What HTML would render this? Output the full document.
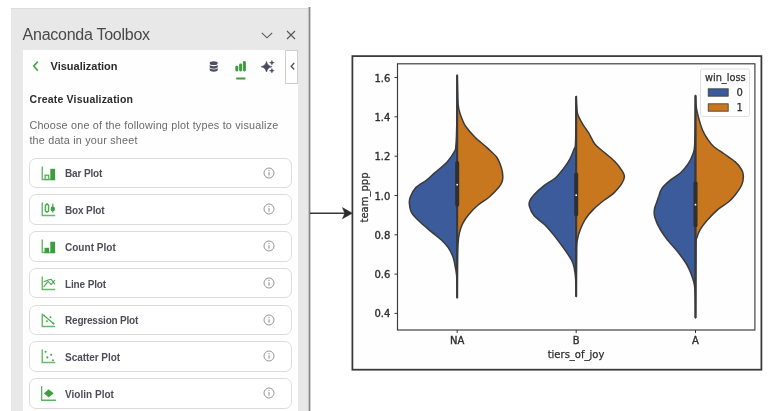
<!DOCTYPE html>
<html lang="en">
<head>
<meta charset="utf-8">
<title>Anaconda Toolbox - Visualization</title>
<style>
html,body{margin:0;padding:0;}
body{width:768px;height:411px;overflow:hidden;background:#fff;position:relative;font-family:"Liberation Sans",sans-serif;}
#stage{position:absolute;left:0;top:0;width:768px;height:411px;overflow:hidden;}
.abs{position:absolute;}
#pane{position:absolute;left:11px;top:8px;width:297px;height:403px;background:#e9e8e9;box-shadow:inset 0 1px 0 #dcdcdc;}
#pborder{position:absolute;left:308px;top:7px;width:3px;height:404px;background:linear-gradient(to right,#c6c6c6 0,#c6c6c6 1px,#868686 1px,#868686 2px,#cfcfcf 2px,#cfcfcf 3px);}
#title{position:absolute;left:22.6px;top:25px;font-size:16px;line-height:20px;color:#484848;white-space:nowrap;letter-spacing:-0.26px;}
#card{position:absolute;left:22.5px;top:49.6px;width:275.4px;height:362px;background:#fefefe;}
#tab{position:absolute;left:285.4px;top:49.6px;width:12.8px;height:34px;background:#fff;border:1px solid #cfcfcf;box-sizing:border-box;}
.h1{position:absolute;left:50.5px;top:59px;font-size:11px;line-height:14px;font-weight:bold;color:#2b2b2b;white-space:nowrap;}
.h2{position:absolute;left:29.6px;top:92.4px;font-size:10.5px;line-height:14px;font-weight:bold;color:#2b2b2b;white-space:nowrap;letter-spacing:0.2px;}
.p{position:absolute;left:29.4px;top:118px;font-size:10.8px;line-height:14.5px;color:#6a6a6a;white-space:nowrap;letter-spacing:0.2px;}
.btn{position:absolute;left:29px;width:263px;height:30.6px;box-sizing:border-box;border:1px solid #dcdcdc;border-radius:7px;background:#fff;}
.btn .ic{position:absolute;left:11px;top:7px;}
.btn .bl{position:absolute;left:35px;top:9px;font-size:10px;line-height:14px;font-weight:bold;color:#4d4d57;white-space:nowrap;letter-spacing:-0.14px;}
.btn .info{position:absolute;left:233.1px;top:8.2px;}
svg text.tk{font-family:"DejaVu Sans",sans-serif;font-size:10px;fill:#2e2e2e;stroke:#2e2e2e;stroke-width:0.35px;}
svg text.lb{font-family:"DejaVu Sans",sans-serif;font-size:10px;fill:#2e2e2e;stroke:#2e2e2e;stroke-width:0.25px;}
</style>
</head>
<body>
<div id="stage">
<div id="pane"></div>
<div id="pborder"></div>
<div id="title">Anaconda Toolbox</div>
<svg class="abs" style="left:258px;top:26px" width="44" height="18" viewBox="0 0 44 18">
<path d="M3.8 6.8L9 11.8L14.2 6.8" fill="none" stroke="#555" stroke-width="1.1"/>
<path d="M29 5L37 13M37 5L29 13" fill="none" stroke="#555" stroke-width="1.1"/>
</svg>
<div id="card"></div>
<div id="tab"></div>
<svg class="abs" style="left:28px;top:56px" width="270" height="28" viewBox="0 0 270 28">
<path d="M9.8 5.6L5.7 10.1L9.8 14.6" fill="none" stroke="#46a84a" stroke-width="1.6"/>
<g fill="#4d4d66">
<ellipse cx="185.7" cy="7.2" rx="4" ry="1.9"/>
<path d="M181.7 8.6c0 2.3 8 2.3 8 0v2.3c0 2.3-8 2.3-8 0z"/>
<path d="M181.7 11.8c0 2.3 8 2.3 8 0v2.3c0 2.3-8 2.3-8 0z"/>
</g>
<g fill="#3c9e3f">
<rect x="207.3" y="9.8" width="3" height="5.6" rx="1.3"/>
<rect x="211.1" y="7.6" width="3" height="7.8" rx="1.3"/>
<rect x="214.9" y="5.1" width="3" height="10.3" rx="1.3"/>
<rect x="208" y="21.6" width="9.6" height="2" rx="1"/>
</g>
<g fill="#4a4a63">
<path d="M238.5 5.4C239.6 8.8 240.4 9.6 243.9 10.7C240.4 11.8 239.6 12.6 238.5 16C237.4 12.6 236.6 11.8 233.1 10.7C236.6 9.6 237.4 8.8 238.5 5.4Z" stroke="#4a4a63" stroke-width="0.6" stroke-linejoin="round"/>
<path d="M243.9 4.3C244.3 5.9 244.7 6.3 246.3 6.7C244.7 7.1 244.3 7.5 243.9 9.1C243.5 7.5 243.1 7.1 241.5 6.7C243.1 6.3 243.5 5.9 243.9 4.3Z" stroke="#4a4a63" stroke-width="0.4" stroke-linejoin="round"/>
<path d="M243.9 12.3C244.3 13.9 244.7 14.3 246.3 14.7C244.7 15.1 244.3 15.5 243.9 17.1C243.5 15.5 243.1 15.1 241.5 14.7C243.1 14.3 243.5 13.9 243.9 12.3Z" stroke="#4a4a63" stroke-width="0.4" stroke-linejoin="round"/>
</g>
<path d="M266.2 7L263.2 10.2L266.2 13.4" fill="none" stroke="#555" stroke-width="1.4"/>
</svg>
<div class="h1">Visualization</div>
<div class="h2">Create Visualization</div>
<div class="p">Choose one of the following plot types to visualize<br>the data in your sheet</div>
<div class="btn" style="top:157.5px"><svg class="ic" width="16" height="16" viewBox="0 0 16 16"><path d="M1.25 0.5V13.5H14.2" fill="none" stroke="#62ba66" stroke-width="1.4"/><rect x="4.1" y="9.2" width="3.6" height="4.3" fill="#eaf7ea" stroke="#5aae5d" stroke-width="1.3"/><rect x="9.3" y="2.8" width="4.8" height="11.3" fill="#3c9e3f"/></svg><span class="bl" style="top:8.5px;letter-spacing:-0.14px">Bar Plot</span><svg class="info" width="12" height="12" viewBox="0 0 12 12"><circle cx="6" cy="6" r="5" fill="none" stroke="#8a8a8a" stroke-width="0.9"/><path d="M6 5.2V8.6" stroke="#8a8a8a" stroke-width="1"/><circle cx="6" cy="3.6" r="0.6" fill="#8a8a8a"/></svg></div>
<div class="btn" style="top:194.3px"><svg class="ic" width="16" height="16" viewBox="0 0 16 16"><path d="M1.25 0.5V13.5H14.2" fill="none" stroke="#62ba66" stroke-width="1.4"/><rect x="4.3" y="2.5" width="3.3" height="7.2" rx="1.2" fill="#eaf7ea" stroke="#4ea852" stroke-width="1.3"/><path d="M5.95 0.9V2.5M5.95 9.7V11M11.8 1.6V10.6" stroke="#4ea852" stroke-width="1.2" fill="none"/><ellipse cx="11.8" cy="7" rx="2.2" ry="2.4" fill="#3c9e3f"/></svg><span class="bl" style="top:9px;letter-spacing:-0.14px">Box Plot</span><svg class="info" width="12" height="12" viewBox="0 0 12 12"><circle cx="6" cy="6" r="5" fill="none" stroke="#8a8a8a" stroke-width="0.9"/><path d="M6 5.2V8.6" stroke="#8a8a8a" stroke-width="1"/><circle cx="6" cy="3.6" r="0.6" fill="#8a8a8a"/></svg></div>
<div class="btn" style="top:231.0px"><svg class="ic" width="16" height="16" viewBox="0 0 16 16"><path d="M1.25 0.5V13.5H14.2" fill="none" stroke="#62ba66" stroke-width="1.4"/><rect x="3.5" y="8.8" width="4.6" height="5.3" fill="#3c9e3f"/><rect x="9.3" y="2.7" width="4.8" height="11.4" fill="#3c9e3f"/></svg><span class="bl" style="top:9px;letter-spacing:0.02px">Count Plot</span><svg class="info" width="12" height="12" viewBox="0 0 12 12"><circle cx="6" cy="6" r="5" fill="none" stroke="#8a8a8a" stroke-width="0.9"/><path d="M6 5.2V8.6" stroke="#8a8a8a" stroke-width="1"/><circle cx="6" cy="3.6" r="0.6" fill="#8a8a8a"/></svg></div>
<div class="btn" style="top:267.8px"><svg class="ic" width="16" height="16" viewBox="0 0 16 16"><path d="M1.25 0.5V13.5H14.2" fill="none" stroke="#62ba66" stroke-width="1.4"/><path d="M2.6 10.9L7.1 5.4L10.2 8.6L13.8 4M2.6 5.8L7.1 4L10.2 3.3L14 8.3" fill="none" stroke="#4ea852" stroke-width="1.15" stroke-linejoin="round"/></svg><span class="bl" style="top:9px;letter-spacing:-0.14px">Line Plot</span><svg class="info" width="12" height="12" viewBox="0 0 12 12"><circle cx="6" cy="6" r="5" fill="none" stroke="#8a8a8a" stroke-width="0.9"/><path d="M6 5.2V8.6" stroke="#8a8a8a" stroke-width="1"/><circle cx="6" cy="3.6" r="0.6" fill="#8a8a8a"/></svg></div>
<div class="btn" style="top:304.5px"><svg class="ic" width="16" height="16" viewBox="0 0 16 16"><path d="M1.25 0.5V13.5H14.2" fill="none" stroke="#62ba66" stroke-width="1.4"/><path d="M2.4 2L13 11" stroke="#4ea852" stroke-width="1.2"/><circle cx="9.5" cy="4.3" r="1" fill="#4ea852"/><circle cx="5.9" cy="8.2" r="1" fill="#4ea852"/><circle cx="12.4" cy="10.4" r="1" fill="#4ea852"/><circle cx="3" cy="2.5" r="0.9" fill="#4ea852"/></svg><span class="bl" style="top:8.5px;letter-spacing:-0.2px">Regression Plot</span><svg class="info" width="12" height="12" viewBox="0 0 12 12"><circle cx="6" cy="6" r="5" fill="none" stroke="#8a8a8a" stroke-width="0.9"/><path d="M6 5.2V8.6" stroke="#8a8a8a" stroke-width="1"/><circle cx="6" cy="3.6" r="0.6" fill="#8a8a8a"/></svg></div>
<div class="btn" style="top:341.3px"><svg class="ic" width="16" height="16" viewBox="0 0 16 16"><path d="M1.25 0.5V13.5H14.2" fill="none" stroke="#62ba66" stroke-width="1.4"/><circle cx="4.6" cy="2.75" r="1.05" fill="#4ea852"/><circle cx="10.2" cy="5.7" r="1.05" fill="#4ea852"/><circle cx="6.3" cy="8.4" r="1.05" fill="#4ea852"/><circle cx="12" cy="11.2" r="1.05" fill="#4ea852"/></svg><span class="bl" style="top:9px;letter-spacing:-0.04px">Scatter Plot</span><svg class="info" width="12" height="12" viewBox="0 0 12 12"><circle cx="6" cy="6" r="5" fill="none" stroke="#8a8a8a" stroke-width="0.9"/><path d="M6 5.2V8.6" stroke="#8a8a8a" stroke-width="1"/><circle cx="6" cy="3.6" r="0.6" fill="#8a8a8a"/></svg></div>
<div class="btn" style="top:378.0px"><svg class="ic" width="16" height="16" viewBox="0 0 16 16"><path d="M0.6 0.2V14.3H15" fill="none" stroke="#5ab45e" stroke-width="1.4"/><path d="M3.4 7.35L7.7 3.8L12.2 7.35L7.7 10.9Z" fill="#3c9e3f" stroke="#3c9e3f" stroke-width="0.8" stroke-linejoin="round"/></svg><span class="bl" style="top:9px;letter-spacing:0.02px">Violin Plot</span><svg class="info" width="12" height="12" viewBox="0 0 12 12"><circle cx="6" cy="6" r="5" fill="none" stroke="#8a8a8a" stroke-width="0.9"/><path d="M6 5.2V8.6" stroke="#8a8a8a" stroke-width="1"/><circle cx="6" cy="3.6" r="0.6" fill="#8a8a8a"/></svg></div>
<svg class="abs" style="left:0;top:0" width="768" height="411" viewBox="0 0 768 411">
<line x1="310" y1="213.2" x2="345" y2="213.2" stroke="#383838" stroke-width="1.5"/>
<path d="M352.4 213.2L342.4 207.6L344.8 213.2L342.4 218.8Z" fill="#2a2a2a" stroke="#2a2a2a" stroke-width="0.5" stroke-linejoin="round"/>
<rect x="352.4" y="56.1" width="409" height="313.6" fill="#fefefe" stroke="#383838" stroke-width="1.75"/>
<rect x="397.5" y="63.8" width="357.4" height="266.2" fill="#fefefe" stroke="#3a3a3a" stroke-width="1.15"/>
<path d="M457.2 75.2C457.2 81.0 457.1 100.0 457.0 110.0C456.9 120.0 456.7 128.9 456.5 135.0C456.3 141.1 456.1 143.8 455.8 146.5C455.5 149.2 456.2 148.6 454.7 151.2C453.2 153.9 450.3 158.6 446.9 162.2C443.5 165.8 437.8 170.1 434.4 173.1C431.0 176.1 429.7 177.6 426.6 180.0C423.5 182.4 418.3 184.9 415.6 187.8C412.9 190.7 411.2 194.6 410.2 197.2C409.2 199.8 409.1 200.8 409.4 203.4C409.6 206.0 409.9 209.7 411.7 212.8C413.5 215.9 417.0 219.1 420.3 222.2C423.6 225.3 427.7 228.6 431.2 231.6C434.8 234.6 438.5 237.3 441.4 240.0C444.3 242.7 446.4 244.9 448.4 247.8C450.3 250.7 451.9 253.8 453.1 257.2C454.3 260.6 454.9 265.2 455.5 268.1C456.1 271.0 456.2 271.6 456.5 274.4C456.8 277.2 456.9 281.1 457.0 285.0C457.1 288.9 457.2 295.7 457.2 297.8Z" fill="#3b5b9b" stroke="#3a3a3a" stroke-width="1.5" stroke-linejoin="round"/>
<path d="M457.2 75.2C457.3 77.7 457.4 85.0 457.6 90.0C457.8 95.0 457.8 101.0 458.2 105.0C458.6 109.0 459.5 111.5 460.2 114.0C460.9 116.5 461.6 118.0 462.5 120.0C463.4 122.0 463.5 123.4 465.6 126.2C467.7 129.1 471.4 133.6 475.0 137.2C478.6 140.8 483.9 144.7 487.5 148.1C491.1 151.5 494.5 154.1 496.9 157.5C499.2 160.9 500.6 165.3 501.6 168.4C502.6 171.5 502.7 174.0 502.8 176.2C502.9 178.5 502.7 180.1 502.0 182.0C501.3 183.9 500.6 185.3 498.4 187.8C496.2 190.3 492.4 194.3 489.0 197.2C485.6 200.1 481.5 202.1 478.1 205.0C474.7 207.9 471.4 211.3 468.8 214.4C466.1 217.5 464.1 220.6 462.5 223.8C460.9 226.9 460.1 229.7 459.4 233.1C458.6 236.5 458.3 239.5 458.0 244.0C457.7 248.5 457.6 251.0 457.5 260.0C457.4 269.0 457.2 291.5 457.2 297.8Z" fill="#c9771f" stroke="#3a3a3a" stroke-width="1.5" stroke-linejoin="round"/>
<line x1="457.2" y1="75.2" x2="457.2" y2="297.8" stroke="#3a3a3a" stroke-width="2"/>
<line x1="457.2" y1="163.0" x2="457.2" y2="204.8" stroke="#2f2f2f" stroke-width="4" stroke-linecap="round"/>
<circle cx="457.2" cy="184.7" r="0.9" fill="#fff"/>
<path d="M576.2 96.4C576.2 100.3 576.1 112.0 576.0 120.0C575.9 128.1 575.8 139.8 575.4 144.7C575.0 149.6 574.8 147.1 573.9 149.4C573.0 151.7 571.7 155.6 570.0 158.8C568.3 161.9 566.1 165.0 563.8 168.1C561.4 171.2 559.3 174.5 555.9 177.5C552.5 180.5 547.0 183.2 543.4 186.1C539.8 189.0 536.3 192.2 534.0 194.7C531.7 197.2 530.5 199.1 529.7 201.0C528.9 202.9 528.7 203.8 529.4 206.2C530.1 208.7 531.4 212.5 534.0 215.6C536.6 218.7 541.6 221.6 545.0 225.0C548.4 228.4 551.3 232.0 554.4 235.9C557.5 239.8 560.9 244.4 563.8 248.4C566.6 252.4 569.8 256.8 571.6 260.2C573.4 263.6 573.7 265.4 574.4 268.8C575.1 272.1 575.4 275.4 575.7 280.0C576.0 284.6 576.2 293.7 576.2 296.4Z" fill="#3b5b9b" stroke="#3a3a3a" stroke-width="1.5" stroke-linejoin="round"/>
<path d="M576.2 96.4C576.3 98.0 576.4 103.0 576.7 106.0C577.0 109.0 576.8 111.4 577.8 114.4C578.8 117.4 580.7 120.6 582.5 123.8C584.3 126.9 586.7 129.7 588.8 133.1C590.8 136.5 592.4 141.0 595.0 144.2C597.6 147.4 601.0 149.6 604.4 152.5C607.8 155.4 612.3 158.8 615.3 161.9C618.3 165.0 620.8 168.8 622.3 171.2C623.8 173.7 624.5 174.6 624.4 176.7C624.3 178.8 623.4 181.0 621.6 183.8C619.8 186.5 616.6 190.4 613.8 193.1C610.9 195.8 607.8 197.3 604.4 200.0C601.0 202.7 596.5 206.3 593.4 209.4C590.3 212.5 587.8 215.4 585.6 218.8C583.4 222.1 581.6 226.3 580.2 229.7C578.9 233.1 578.1 235.6 577.5 239.0C576.9 242.4 576.8 240.4 576.6 250.0C576.4 259.6 576.3 288.7 576.2 296.4Z" fill="#c9771f" stroke="#3a3a3a" stroke-width="1.5" stroke-linejoin="round"/>
<line x1="576.2" y1="96.4" x2="576.2" y2="296.4" stroke="#3a3a3a" stroke-width="2"/>
<line x1="576.2" y1="174.6" x2="576.2" y2="214.6" stroke="#2f2f2f" stroke-width="4" stroke-linecap="round"/>
<circle cx="576.2" cy="195.2" r="0.9" fill="#fff"/>
<path d="M695.5 95.6C695.5 99.7 695.4 111.6 695.3 120.0C695.1 128.4 695.0 140.3 694.6 146.0C694.2 151.7 694.0 151.1 693.0 154.0C692.0 156.9 690.5 160.3 688.4 163.4C686.3 166.5 683.7 169.9 680.6 172.8C677.5 175.7 672.8 178.0 669.7 180.6C666.6 183.2 663.7 185.8 661.9 188.4C660.1 191.0 659.6 194.0 658.8 196.2C657.9 198.5 657.5 199.8 656.8 202.0C656.1 204.2 654.7 206.9 654.4 209.4C654.1 211.9 653.8 213.8 654.8 217.2C655.8 220.6 658.1 225.8 660.3 229.7C662.5 233.6 665.1 236.9 668.0 240.6C670.9 244.2 674.6 248.0 677.5 251.6C680.4 255.2 683.4 259.3 685.2 262.0C687.0 264.7 687.2 265.3 688.4 267.8C689.6 270.3 691.3 274.3 692.3 277.2C693.3 280.1 693.9 282.0 694.4 285.0C694.9 288.0 695.0 289.5 695.2 295.0C695.4 300.5 695.5 314.0 695.5 317.8Z" fill="#3b5b9b" stroke="#3a3a3a" stroke-width="1.5" stroke-linejoin="round"/>
<path d="M695.5 95.6C695.6 97.0 695.8 101.4 696.0 104.0C696.2 106.6 696.4 108.5 697.0 111.2C697.6 114.0 698.5 117.5 699.4 120.6C700.3 123.7 701.2 127.0 702.5 130.0C703.8 133.0 705.4 135.8 707.2 138.5C709.0 141.2 710.5 143.7 713.4 146.2C716.3 148.8 720.8 151.4 724.4 154.0C728.0 156.6 732.4 159.3 735.3 161.9C738.2 164.5 740.2 167.3 741.6 169.7C743.0 172.0 743.4 173.4 743.4 176.0C743.4 178.6 743.0 182.2 741.6 185.3C740.2 188.4 737.5 191.9 735.3 194.7C733.1 197.5 731.4 199.6 728.5 202.0C725.6 204.4 721.5 206.3 718.0 209.4C714.5 212.5 710.2 216.9 707.2 220.3C704.2 223.7 701.9 226.8 700.2 229.7C698.5 232.6 697.7 234.8 697.0 237.5C696.3 240.2 696.2 232.6 696.0 246.0C695.8 259.4 695.6 305.8 695.5 317.8Z" fill="#c9771f" stroke="#3a3a3a" stroke-width="1.5" stroke-linejoin="round"/>
<line x1="695.5" y1="95.6" x2="695.5" y2="317.8" stroke="#3a3a3a" stroke-width="2"/>
<line x1="695.5" y1="183.2" x2="695.5" y2="225.6" stroke="#2f2f2f" stroke-width="4" stroke-linecap="round"/>
<circle cx="695.5" cy="204.7" r="0.9" fill="#fff"/>
<line x1="394.5" y1="77.5" x2="397.5" y2="77.5" stroke="#333" stroke-width="1"/>
<text x="390.4" y="81.5" text-anchor="end" class="tk">1.6</text>
<line x1="394.5" y1="116.8" x2="397.5" y2="116.8" stroke="#333" stroke-width="1"/>
<text x="390.4" y="120.8" text-anchor="end" class="tk">1.4</text>
<line x1="394.5" y1="156.2" x2="397.5" y2="156.2" stroke="#333" stroke-width="1"/>
<text x="390.4" y="160.2" text-anchor="end" class="tk">1.2</text>
<line x1="394.5" y1="195.5" x2="397.5" y2="195.5" stroke="#333" stroke-width="1"/>
<text x="390.4" y="199.5" text-anchor="end" class="tk">1.0</text>
<line x1="394.5" y1="234.8" x2="397.5" y2="234.8" stroke="#333" stroke-width="1"/>
<text x="390.4" y="238.8" text-anchor="end" class="tk">0.8</text>
<line x1="394.5" y1="274.1" x2="397.5" y2="274.1" stroke="#333" stroke-width="1"/>
<text x="390.4" y="278.1" text-anchor="end" class="tk">0.6</text>
<line x1="394.5" y1="313.4" x2="397.5" y2="313.4" stroke="#333" stroke-width="1"/>
<text x="390.4" y="317.4" text-anchor="end" class="tk">0.4</text>
<line x1="457.2" y1="330" x2="457.2" y2="333" stroke="#333" stroke-width="1"/>
<text x="457.2" y="344" text-anchor="middle" class="tk">NA</text>
<line x1="576.2" y1="330" x2="576.2" y2="333" stroke="#333" stroke-width="1"/>
<text x="576.2" y="344" text-anchor="middle" class="tk">B</text>
<line x1="695.5" y1="330" x2="695.5" y2="333" stroke="#333" stroke-width="1"/>
<text x="695.5" y="344" text-anchor="middle" class="tk">A</text>
<text transform="translate(367.6 197.5) rotate(-90)" text-anchor="middle" class="lb">team_ppp</text>
<text x="576" y="358" text-anchor="middle" class="lb">tiers_of_joy</text>
<rect x="700.5" y="69" width="49" height="47.5" rx="2" fill="#fefefe" stroke="#dcdcdc" stroke-width="0.9"/>
<text x="725.3" y="80.5" text-anchor="middle" class="lb" style="font-size:9.8px">win_loss</text>
<rect x="708.2" y="88.8" width="20" height="7.4" fill="#3b5b9b" stroke="#3a3a3a" stroke-width="0.8"/>
<rect x="708.2" y="103.8" width="20" height="7.4" fill="#c9771f" stroke="#3a3a3a" stroke-width="0.8"/>
<text x="736.5" y="96" class="lb">0</text>
<text x="736.5" y="111" class="lb">1</text>
</svg>
</div>
</body>
</html>
